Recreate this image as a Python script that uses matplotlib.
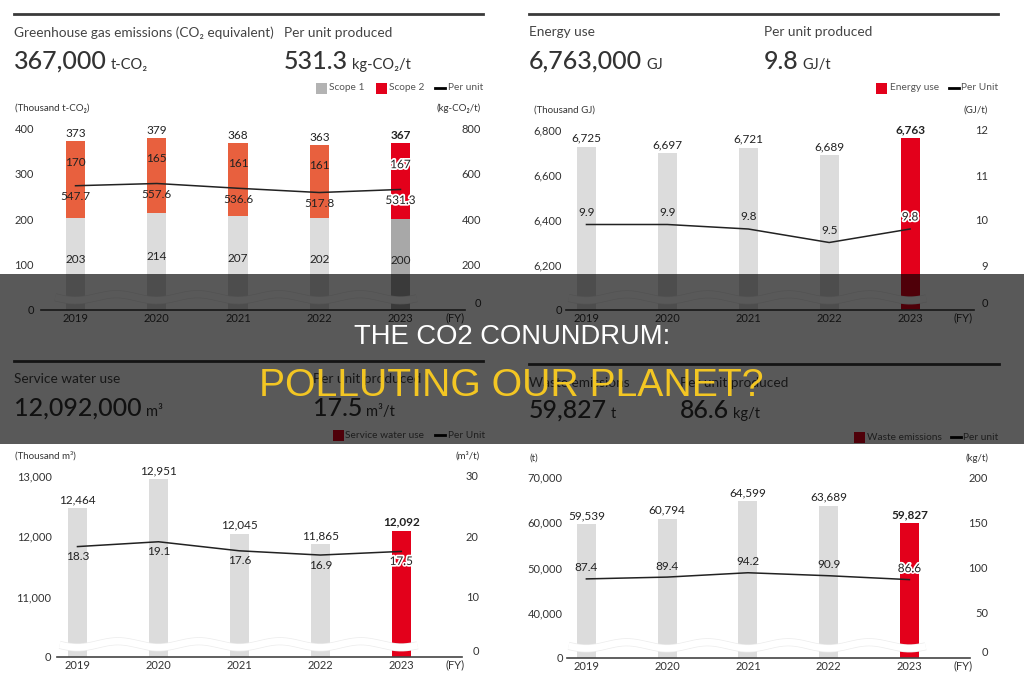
import matplotlib
matplotlib.use('Agg')
import matplotlib.pyplot as plt
import matplotlib.patheffects as pe
from matplotlib.patches import Rectangle
from matplotlib.lines import Line2D
from matplotlib.transforms import blended_transform_factory
import numpy as np

plt.rcParams['font.family'] = ['Lato', 'DejaVu Sans']

# ---------------- data ----------------
years = ['2019', '2020', '2021', '2022', '2023']

ghg_scope1 = [203, 214, 207, 202, 200]
ghg_scope2 = [170, 165, 161, 161, 167]
ghg_total = [373, 379, 368, 363, 367]
ghg_per_unit = [547.7, 557.6, 536.6, 517.8, 531.3]

energy_use = [6725, 6697, 6721, 6689, 6763]
energy_per_unit = [9.9, 9.9, 9.8, 9.5, 9.8]

water_use = [12464, 12951, 12045, 11865, 12092]
water_per_unit = [18.3, 19.1, 17.6, 16.9, 17.5]

waste = [59539, 60794, 64599, 63689, 59827]
waste_per_unit = [87.4, 89.4, 94.2, 90.9, 86.6]

# ---------------- figure ----------------
W, H = 1024, 687
fig = plt.figure(figsize=(W / 100, H / 100), dpi=100)
fig.patch.set_facecolor('white')
renderer = fig.canvas.get_renderer()

TXT = '#333333'
GRAY = '#dcdcdc'
RED = '#e3001b'
ORANGE = '#e8603e'
DGRAY = '#a8a8a8'
LEG_GRAY = '#b3b3b3'
WHITE_STROKE = [pe.withStroke(linewidth=2.5, foreground='white')]
HEAD_FS = 9.8


def ft(x, y, s, **kw):
    kw.setdefault('color', TXT)
    return fig.text(x / W, 1 - y / H, s, **kw)


def right_px(t, gap=4):
    return t.get_window_extent(renderer).x1 + gap


def header(x0, x1, rule_y, title_y, big_y, title, px2, big1, unit1, big2, unit2):
    fig.add_artist(Line2D([x0 / W, x1 / W], [1 - rule_y / H] * 2,
                          color='#3a3a3a', lw=2, transform=fig.transFigure))
    ft(x0, title_y, title, fontsize=HEAD_FS, va='baseline', color='#444444')
    ft(px2, title_y, 'Per unit produced', fontsize=HEAD_FS, va='baseline', color='#444444')
    t = ft(x0, big_y, big1, fontsize=18, va='baseline', fontweight='medium')
    ft(right_px(t), big_y, unit1, fontsize=10.5, va='baseline')
    t = ft(px2, big_y, big2, fontsize=18, va='baseline', fontweight='medium')
    ft(right_px(t), big_y, unit2, fontsize=10.5, va='baseline')


def legend(y, items):
    for kind, x, color, label, tx in items:
        if kind == 'sq':
            fig.add_artist(Rectangle((x / W, 1 - (y + 5.5) / H), 11 / W, 11 / H,
                                     transform=fig.transFigure, color=color, lw=0))
        else:
            fig.add_artist(Line2D([x / W, (x + 10) / W], [1 - y / H] * 2,
                                  color='black', lw=2, transform=fig.transFigure))
        ft(tx, y, label, fontsize=7.3, va='center', color='#555555')


def panel(rect, xlim, ylim, ylim2, lt, ll, rt, rl, lpad, rpad, fy_x, fy_y):
    x0, x1, ytop, ybot = rect
    ax = fig.add_axes([x0 / W, 1 - ybot / H, (x1 - x0) / W, (ybot - ytop) / H])
    ax2 = ax.twinx()
    ax.set_xlim(*xlim)
    ax.set_ylim(*ylim)
    ax2.set_ylim(*ylim2)
    for a in (ax, ax2):
        a.patch.set_alpha(0)
        for s in ('left', 'right', 'top', 'bottom'):
            a.spines[s].set_visible(False)
        a.tick_params(length=0)
    ax.spines['bottom'].set_visible(True)
    ax.spines['bottom'].set_color('#444444')
    ax.spines['bottom'].set_linewidth(1.2)
    ax.set_xticks(range(len(years)))
    ax.set_xticklabels(years, fontsize=8, color=TXT)
    ax.tick_params(axis='x', pad=2)
    ax.set_yticks(lt)
    ax.set_yticklabels(ll, fontsize=8, color=TXT)
    ax.tick_params(axis='y', pad=lpad)
    ax2.set_yticks(rt)
    ax2.set_yticklabels(rl, fontsize=8, color=TXT)
    for lab in ax2.get_yticklabels():
        lab.set_ha('right')
    ax2.tick_params(axis='y', pad=rpad)
    ft(fy_x, fy_y, '(FY)', fontsize=8, ha='center', va='center')
    return ax, ax2


def wave(ax, x_start, x_end, y0=0.07):
    xs = np.linspace(x_start, x_end, 300)
    ys = y0 - 0.017 * np.cos(2 * np.pi * xs)
    tr = blended_transform_factory(ax.transData, ax.transAxes)
    ax.plot(xs, ys, color='white', lw=4.8, transform=tr, clip_on=False,
            solid_capstyle='butt', zorder=5,
            path_effects=[pe.Stroke(linewidth=5.8, foreground='#ececec'), pe.Normal()])


x = np.arange(len(years))
BW = 0.235
bar_colors = [GRAY] * 4 + [RED]

# ---------------- Panel 1: GHG ----------------
header(14, 483, 14, 37, 69, 'Greenhouse gas emissions (CO\u2082 equivalent)', 284,
       '367,000', 't-CO\u2082', '531.3', 'kg-CO\u2082/t')
legend(88, [('sq', 316, LEG_GRAY, 'Scope 1', 329), ('sq', 376, RED, 'Scope 2', 389),
            ('ln', 435, 'k', 'Per unit', 448)])
ft(15, 108, '(Thousand t-CO\u2082)', fontsize=7, va='center')
ft(481, 108, '(kg-CO\u2082/t)', fontsize=7, va='center', ha='right')
ax, ax2 = panel((41, 465, 128.5, 310), (-0.425, 4.794), (0, 400), (0, 800),
                [0, 100, 200, 300, 400], ['0', '100', '200', '300', '400'],
                [35, 200, 400, 600, 800], ['0', '200', '400', '600', '800'],
                5, 11.5, 455, 318)
s1_colors = [GRAY] * 4 + [DGRAY]
s2_colors = [ORANGE] * 4 + [RED]
ax.bar(x, ghg_scope1, BW, color=s1_colors, zorder=2)
ax.bar(x, ghg_scope2, BW, bottom=ghg_scope1, color=s2_colors, zorder=2)
wave(ax, -0.25, 4.2)
for i in range(len(years)):
    last = i == len(years) - 1
    pe_ = WHITE_STROKE if last else None
    ax.annotate(str(ghg_total[i]), (x[i], ghg_total[i]), xytext=(0, 2),
                textcoords='offset pixels', ha='center', va='bottom', fontsize=8.5,
                color='#222222', fontweight='bold' if last else 'normal', annotation_clip=False)
    ax.text(x[i], ghg_scope1[i] * 0.55, str(ghg_scope1[i]), ha='center', va='center',
            fontsize=8.5, color='#222222', zorder=6)
    ax.text(x[i], ghg_scope1[i] + ghg_scope2[i] * 0.72, str(ghg_scope2[i]), ha='center',
            va='center', fontsize=8.5, color='#222222', zorder=6, path_effects=pe_)
ax2.plot(x, ghg_per_unit, color='#222222', lw=1.1, zorder=3)
for i, v in enumerate(ghg_per_unit):
    ax2.annotate(f'{v:.1f}', (x[i], v), xytext=(0, -11), textcoords='offset pixels',
                 ha='center', va='center', fontsize=8.5, color='#222222',
                 path_effects=WHITE_STROKE if i == 4 else None)

# ---------------- Panel 2: Energy ----------------
header(529, 998, 14, 36, 69, 'Energy use', 764, '6,763,000', 'GJ', '9.8', 'GJ/t')
legend(88, [('sq', 876, RED, 'Energy use', 890), ('ln', 949, 'k', 'Per Unit', 961)])
ft(534, 110, '(Thousand GJ)', fontsize=7, va='center')
ft(988, 110, '(GJ/t)', fontsize=7, va='center', ha='right')
ax, ax2 = panel((566, 974, 130, 310), (-0.253, 4.79), (6000, 6800), (8, 12),
                [6000, 6200, 6400, 6600, 6800], ['0', '6,200', '6,400', '6,600', '6,800'],
                [8.16, 9, 10, 11, 12], ['0', '9', '10', '11', '12'],
                3, 10, 963, 318)
ax.bar(x, energy_use, BW, color=bar_colors, zorder=2)
wave(ax, -0.22, 4.2)
for i, v in enumerate(energy_use):
    ax.annotate(f'{v:,}', (x[i], v), xytext=(0, 3), textcoords='offset pixels',
                ha='center', va='bottom', fontsize=8.5, color='#222222',
                fontweight='bold' if i == 4 else 'normal', annotation_clip=False)
ax2.plot(x, energy_per_unit, color='#222222', lw=1.1, zorder=3)
for i, v in enumerate(energy_per_unit):
    ax2.annotate(f'{v:.1f}', (x[i], v), xytext=(0, 12), textcoords='offset pixels',
                 ha='center', va='center', fontsize=8.5, color='#222222',
                 path_effects=WHITE_STROKE if i == 4 else None)

# ---------------- Panel 3: Water ----------------
header(14, 483, 361, 383, 416, 'Service water use', 313, '12,092,000', 'm\u00b3',
       '17.5', 'm\u00b3/t')
legend(435, [('sq', 333, RED, 'Service water use', 345), ('ln', 435, 'k', 'Per Unit', 448)])
ft(15, 456, '(Thousand m\u00b3)', fontsize=7, va='center')
ft(480, 456, '(m\u00b3/t)', fontsize=7, va='center', ha='right')
ax, ax2 = panel((57, 462, 476, 657), (-0.253, 4.75), (10000, 13000), (0, 30),
                [10000, 11000, 12000, 13000], ['0', '11,000', '12,000', '13,000'],
                [1.16, 10, 20, 30], ['0', '10', '20', '30'],
                4, 12, 455, 665)
ax.bar(x, water_use, BW, color=bar_colors, zorder=2)
wave(ax, -0.22, 4.2)
for i, v in enumerate(water_use):
    ax.annotate(f'{v:,}', (x[i], v), xytext=(0, 3), textcoords='offset pixels',
                ha='center', va='bottom', fontsize=8.5, color='#222222',
                fontweight='bold' if i == 4 else 'normal', annotation_clip=False)
ax2.plot(x, water_per_unit, color='#222222', lw=1.1, zorder=3)
for i, v in enumerate(water_per_unit):
    ax2.annotate(f'{v:.1f}', (x[i], v), xytext=(0, -10), textcoords='offset pixels',
                 ha='center', va='center', fontsize=8.5, color='#222222',
                 path_effects=WHITE_STROKE if i == 4 else None)

# ---------------- Panel 4: Waste ----------------
header(529, 999, 364, 387, 418, 'Waste emissions', 680, '59,827', 't', '86.6', 'kg/t')
legend(437, [('sq', 854, RED, 'Waste emissions', 867), ('ln', 951, 'k', 'Per unit', 963)])
ft(529, 458, '(t)', fontsize=7, va='center')
ft(988, 458, '(kg/t)', fontsize=7, va='center', ha='right')
ax, ax2 = panel((567, 970, 477, 658), (-0.24, 4.75), (30000, 70000), (0, 200),
                [30000, 40000, 50000, 60000, 70000],
                ['0', '40,000', '50,000', '60,000', '70,000'],
                [7.7, 50, 100, 150, 200], ['0', '50', '100', '150', '200'],
                3, 13, 963, 666)
ax.bar(x, waste, BW, color=bar_colors, zorder=2)
wave(ax, -0.22, 4.2)
for i, v in enumerate(waste):
    ax.annotate(f'{v:,}', (x[i], v), xytext=(0, 3), textcoords='offset pixels',
                ha='center', va='bottom', fontsize=8.5, color='#222222',
                fontweight='bold' if i == 4 else 'normal', annotation_clip=False)
ax2.plot(x, waste_per_unit, color='#222222', lw=1.1, zorder=3)
for i, v in enumerate(waste_per_unit):
    ax2.annotate(f'{v:.1f}', (x[i], v), xytext=(0, 11), textcoords='offset pixels',
                 ha='center', va='center', fontsize=8.5, color='#222222',
                 path_effects=WHITE_STROKE if i == 4 else None)

# ---------------- Overlay banner ----------------
fig.add_artist(Rectangle((0, 1 - 444 / H), 1, (444 - 274) / H, transform=fig.transFigure,
                         facecolor='black', alpha=0.65, lw=0, zorder=10))


def fit(t, target):
    bb = t.get_window_extent(renderer)
    t.set_fontsize(t.get_fontsize() * target / bb.width)


TITLE_FAMILY = ['Liberation Sans', 'Roboto', 'DejaVu Sans']
t1 = ft(512, 337, 'THE CO2 CONUNDRUM:', fontsize=20, color='white', ha='center',
        va='center', family=TITLE_FAMILY, zorder=11)
fit(t1, 316)
t2 = ft(511, 386, 'POLLUTING OUR PLANET?', fontsize=27, color='#f3c623', ha='center',
        va='center', family=TITLE_FAMILY, zorder=11)
fit(t2, 505)

fig.savefig('out.png', dpi=100)
